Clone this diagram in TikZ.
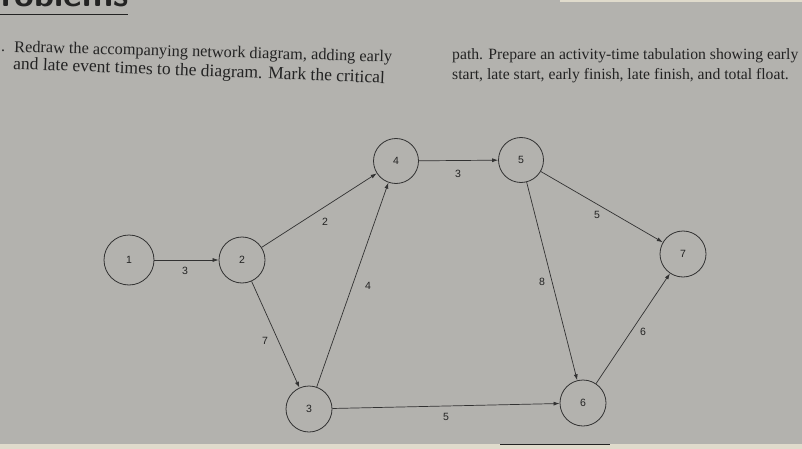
\documentclass[tikz,border=0pt]{standalone}
\usepackage{fontspec}
\setmainfont{Liberation Serif}
\newfontfamily\lblfont{Liberation Sans}
\usetikzlibrary{arrows.meta}
\definecolor{bggray}{RGB}{179,178,174}
\definecolor{inkc}{RGB}{50,50,50}
\definecolor{txtc}{RGB}{35,35,35}
\definecolor{pagec}{RGB}{224,219,204}
\tikzset{
  ev/.style={draw=inkc, line width=0.8pt, circle, minimum size=46pt, inner sep=0pt,
    font=\lblfont\fontsize{10.5}{12}\selectfont, text=txtc},
  act/.style={draw=inkc, line width=0.7pt, -{Latex[length=6pt,width=4pt]}},
  dur/.style={font=\lblfont\fontsize{10.5}{12}\selectfont, text=txtc, inner sep=0pt},
  body/.style={font=\fontsize{15.7}{19}\selectfont, text=txtc, inner sep=0pt, anchor=base west}
}
\begin{document}
\begin{tikzpicture}[x=1pt,y=-1pt]
\useasboundingbox (0,0) rectangle (802,449);
\clip (0,0) rectangle (802,449);
\fill[bggray] (0,0) rectangle (802,449);
\fill[pagec] (0,444) rectangle (802,449);
\fill[pagec] (560,0) rectangle (802,2.5);
\draw[inkc!70!black, line width=1.2pt] (500,444.5) -- (610,444.5);
% heading
\node[font=\sffamily\bfseries\fontsize{36}{36}\selectfont, text=txtc, anchor=base east, inner sep=0pt] (head) at (129,7) {Problems};
\draw[txtc, line width=1.5pt] (0,14.5) -- (128,14.5);
% text
\node[body] (dot) at (1,52) {.};
\node[body, font=\fontsize{16.3}{19}\selectfont, rotate=-1.5] (l1) at (14,52) {Redraw the accompanying network diagram, adding early};
\node[body, font=\fontsize{17.5}{20}\selectfont, rotate=-2.2] (l2) at (13,69) {and late event times to the diagram. Mark the critical};
\node[body] (r1) at (452,60) {path. Prepare an activity-time tabulation showing early};
\node[body] (r2) at (452,80) {start, late start, early finish, late finish, and total float.};
% events
\node[ev, minimum size=50pt] (n1) at (129,260) {1};
\node[ev] (n2) at (242,260) {2};
\node[ev] (n3) at (309,409) {3};
\node[ev, minimum size=45pt] (n4) at (396,161) {4};
\node[ev, minimum size=45pt] (n5) at (521,160) {5};
\node[ev] (n6) at (583,403) {6};
\node[ev] (n7) at (683,254) {7};
% activities
\draw[act] (n1) -- (n2) node[dur] (d12) at (185,271) {3};
\draw[act] (n2) -- (n4) node[dur] (d24) at (325,222) {2};
\draw[act] (n2) -- (n3) node[dur] (d23) at (265,341) {7};
\draw[act] (n3) -- (n4) node[dur] (d34) at (368,286) {4};
\draw[act] (n4) -- (n5) node[dur] (d45) at (458,174) {3};
\draw[act] (n5) -- (n7) node[dur] (d57) at (597,215) {5};
\draw[act] (n5) -- (n6) node[dur] (d56) at (542,282) {8};
\draw[act] (n3) -- (n6) node[dur] (d36) at (446,417) {5};
\draw[act] (n6) -- (n7) node[dur] (d67) at (643,332) {6};
\end{tikzpicture}
\end{document}
